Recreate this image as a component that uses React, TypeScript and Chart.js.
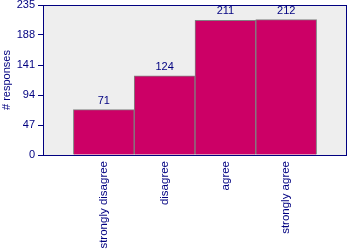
import React, { useEffect, useRef } from "react";
import { Chart, registerables } from "chart.js";

Chart.register(...registerables);

const categories = ["", "strongly disagree", "disagree", "agree", "strongly agree", ""];
const responses = [null, 71, 124, 211, 212, null];
const yMax = 235;
const yStep = 47;

const NAVY = "#000080";
const FONT = "'Liberation Sans', Arial, sans-serif";

const plotBox = {
  id: "plotBox",
  beforeDatasetsDraw(chart: any) {
    const { ctx, chartArea: a } = chart;
    ctx.save();
    ctx.fillStyle = "#EEEEEE";
    ctx.fillRect(a.left, a.top, a.right - a.left, a.bottom - a.top);
    ctx.restore();
  },
  afterDatasetsDraw(chart: any) {
    const { ctx, chartArea: a } = chart;
    ctx.save();
    const meta = chart.getDatasetMeta(0);
    ctx.fillStyle = NAVY;
    ctx.font = `11px ${FONT}`;
    ctx.textAlign = "center";
    ctx.textBaseline = "alphabetic";
    meta.data.forEach((el: any, i: number) => {
      const v = responses[i];
      if (v == null) return;
      ctx.fillText(String(v), el.x, el.y - 6);
    });
    ctx.strokeStyle = NAVY;
    ctx.lineWidth = 1;
    ctx.strokeRect(
      Math.round(a.left) + 0.5,
      Math.round(a.top) + 0.5,
      Math.round(a.right - a.left) - 1,
      Math.round(a.bottom - a.top)
    );
    ctx.restore();
  },
};

export default function App() {
  const ref = useRef<HTMLCanvasElement | null>(null);
  useEffect(() => {
    if (!ref.current) return;
    Chart.defaults.font.family = FONT;
    const chart = new Chart(ref.current, {
      type: "bar",
      data: {
        labels: categories,
        datasets: [
          {
            data: responses as any,
            backgroundColor: "#CC0066",
            borderColor: "#808080",
            borderWidth: 1,
            barPercentage: 1,
            categoryPercentage: 1,
          },
        ],
      },
      options: {
        animation: false,
        responsive: false,
        maintainAspectRatio: false,
        layout: { padding: { top: 5, right: 3, left: 0, bottom: 0 } },
        plugins: { legend: { display: false }, tooltip: { enabled: false } },
        scales: {
          x: {
            type: "category",
            offset: false,
            grid: { display: false },
            border: { display: false },
            ticks: {
              color: NAVY,
              font: { size: 11.5, family: FONT },
              minRotation: 90,
              maxRotation: 90,
              autoSkip: false,
              padding: -2,
            },
            afterFit(scale: any) {
              scale.height = 95;
              scale.paddingLeft = 0;
              scale.paddingRight = 0;
            },
          },
          y: {
            min: 0,
            max: yMax,
            grid: {
              drawOnChartArea: false,
              drawTicks: true,
              tickLength: 5,
              color: NAVY,
            },
            border: { display: false },
            ticks: {
              stepSize: yStep,
              color: NAVY,
              font: { size: 11, family: FONT },
              padding: 3,
            },
            title: {
              display: true,
              text: "# responses",
              color: NAVY,
              font: { size: 11, family: FONT },
              padding: 0,
            },
            afterFit(scale: any) {
              scale.width = 43;
              scale.paddingTop = 0;
              scale.paddingBottom = 0;
            },
          },
        },
      },
      plugins: [plotBox],
    });
    return () => chart.destroy();
  }, []);
  return (
    <div style={{ position: "absolute", left: 0, top: 0, width: 350, height: 250, background: "#fff" }}>
      <canvas ref={ref} width={350} height={250} style={{ width: 350, height: 250 }} />
    </div>
  );
}
